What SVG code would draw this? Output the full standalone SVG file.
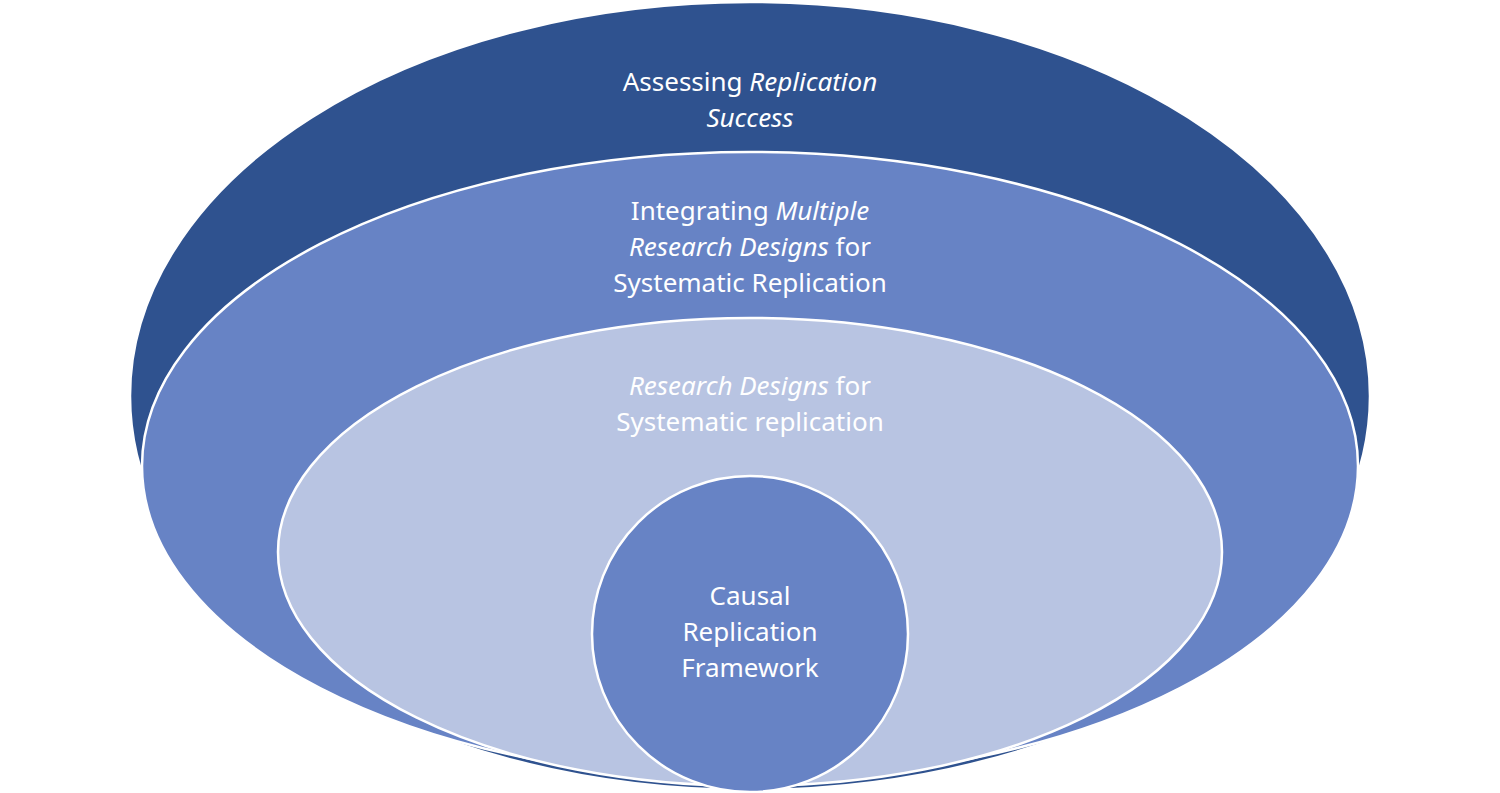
<svg xmlns="http://www.w3.org/2000/svg" width="1500" height="793" viewBox="0 0 1500 793">
<style>
.s{stroke:#fff;stroke-width:2.5}
text{font-family:"Noto Sans","Open Sans",sans-serif;font-size:26px;fill:#fff;text-anchor:middle}
.i{font-style:italic}
</style>
<rect width="1500" height="793" fill="#fff"/>
<g id="outer"><ellipse class="s" cx="750" cy="396" rx="620" ry="394" fill="#2F528F"/>
<text x="750" y="91">Assessing <tspan class="i">Replication</tspan></text>
<text x="750" y="127" class="i">Success</text></g>
<g id="middle"><ellipse class="s" cx="750" cy="466" rx="608" ry="314" fill="#6783C5"/>
<text x="750" y="220">Integrating <tspan class="i">Multiple</tspan></text>
<text x="750" y="256"><tspan class="i">Research Designs</tspan> for</text>
<text x="750" y="292">Systematic Replication</text></g>
<g id="inner"><ellipse class="s" cx="750" cy="552" rx="472" ry="234" fill="#B8C4E2"/>
<text x="750" y="395"><tspan class="i">Research Designs</tspan> for</text>
<text x="750" y="431">Systematic replication</text></g>
<g id="core"><circle class="s" cx="750" cy="634" r="158" fill="#6783C5"/>
<text x="750" y="605">Causal</text>
<text x="750" y="641">Replication</text>
<text x="750" y="677">Framework</text></g>
<g id="connectors"/>
</svg>
